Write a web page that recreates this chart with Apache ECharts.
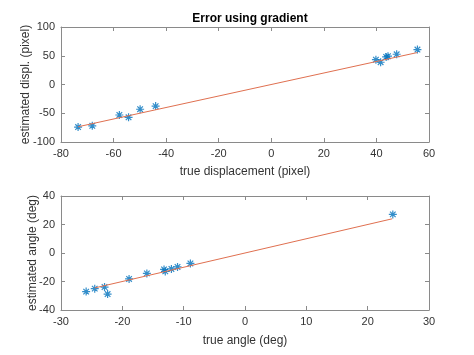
<!DOCTYPE html>
<html><head><meta charset="utf-8">
<script src="https://cdn.jsdelivr.net/npm/echarts@6/dist/echarts.min.js"></script>
<style>html,body{margin:0;padding:0;background:#fff}#c{width:474px;height:355px}</style>
</head><body><div id="c"></div>
<script>
// Top subplot: true vs estimated displacement (pixel)
const dispTrue = [-73.5, -68.1, -57.8, -54.3, -49.9, -44.0, 39.8, 41.6, 43.7, 44.4, 47.7, 55.6];
const dispEst  = [-74.0, -71.8, -53.0, -57.0, -43.0, -37.6, 43.2, 38.7, 48.0, 49.2, 52.6, 60.7];
const dispLineX = [-73.5, 55.6];
const dispLineY = [-73.5, 55.6];
// Bottom subplot: true vs estimated angle (deg)
const angTrue = [-25.9, -24.5, -22.9, -22.4, -18.9, -16.0, -13.2, -13.0, -12.0, -11.0, -8.9, 24.1];
const angEst  = [-27.1, -25.0, -23.9, -28.8, -18.2, -14.3, -11.5, -12.9, -11.2, -9.8, -7.3, 27.1];
const angLineX = [-24.5, 24.0];
const angLineY = [-24.5, 24.0];
const titleText = 'Error using gradient';

const axisCol = '#8a8a8a', textCol = '#333', font = 'Liberation Sans, Arial, sans-serif';
const star = 'path://M0,-10L0,10M-10,0L10,0M-7,-7L7,7M-7,7L7,-7';
function pairs(a,b){return a.map((v,i)=>[v,b[i]]);}
function mainAxis(grid, min, max, interval, name, gap, pos){
  return {type:'value', gridIndex:grid, min, max, interval, position:pos,
    name, nameLocation:'middle', nameGap:gap, nameMoveOverlap:false,
    nameTextStyle:{color:textCol, fontSize:12, fontFamily:font},
    axisLine:{show:true, onZero:false, lineStyle:{color:axisCol}},
    axisTick:{show:true, inside:true, length:4, lineStyle:{color:axisCol}},
    axisLabel:{color:textCol, fontSize:11, fontFamily:font, margin:6},
    splitLine:{show:false}};
}
function boxAxis(grid, min, max, interval, pos){
  return {type:'value', gridIndex:grid, min, max, interval, position:pos,
    axisLine:{show:true, onZero:false, lineStyle:{color:axisCol}},
    axisTick:{show:true, inside:true, length:4, lineStyle:{color:axisCol}},
    axisLabel:{show:false}, splitLine:{show:false}};
}
const chart = echarts.init(document.getElementById('c'));
chart.setOption({
  animation:false,
  backgroundColor:'#fff',
  title:{text:titleText, left:245, textAlign:'center', top:8,
    textStyle:{fontSize:12, fontWeight:'bold', color:'#000', fontFamily:font}},
  grid:[{left:61, width:368, top:27, height:115},
        {left:61, width:368, top:196, height:114}],
  xAxis:[mainAxis(0,-80,60,20,'true displacement (pixel)',24,'bottom'),
         boxAxis(0,-80,60,20,'top'),
         mainAxis(1,-30,30,10,'true angle (deg)',25,'bottom'),
         boxAxis(1,-30,30,10,'top')],
  yAxis:[mainAxis(0,-100,100,50,'estimated displ. (pixel)',29,'left'),
         boxAxis(0,-100,100,50,'right'),
         mainAxis(1,-40,40,20,'estimated angle (deg)',22,'left'),
         boxAxis(1,-40,40,20,'right')],
  series:[
    {type:'line', xAxisIndex:0, yAxisIndex:0, data:pairs(dispLineX,dispLineY), showSymbol:false,
      lineStyle:{color:'#E07050', width:1}},
    {type:'scatter', xAxisIndex:0, yAxisIndex:0, data:pairs(dispTrue,dispEst), symbol:star, symbolSize:8,
      itemStyle:{color:'rgba(0,0,0,0)', borderColor:'#0072BD', borderWidth:1.2}},
    {type:'line', xAxisIndex:2, yAxisIndex:2, data:pairs(angLineX,angLineY), showSymbol:false,
      lineStyle:{color:'#E07050', width:1}},
    {type:'scatter', xAxisIndex:2, yAxisIndex:2, data:pairs(angTrue,angEst), symbol:star, symbolSize:8,
      itemStyle:{color:'rgba(0,0,0,0)', borderColor:'#0072BD', borderWidth:1.2}}
  ]
});
</script></body></html>
